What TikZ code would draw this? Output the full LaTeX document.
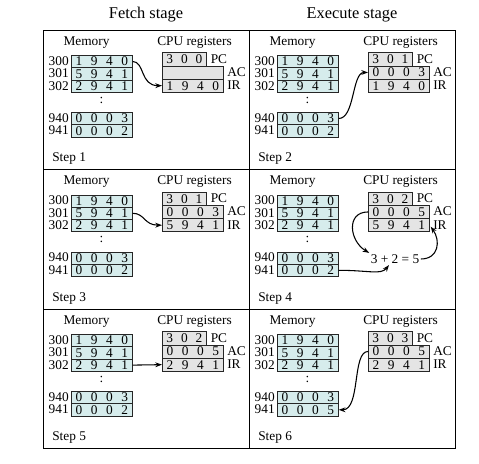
\documentclass[tikz,border=0pt]{standalone}
\usepackage{fontspec}
\setmainfont{Liberation Serif}
\usetikzlibrary{arrows.meta,calc}
\definecolor{memfill}{RGB}{214,236,236}
\definecolor{regfill}{RGB}{228,228,228}

\newcommand\dgt[1]{\makebox[11.4pt]{#1}}
\newcommand\pdgt[1]{\makebox[11pt]{#1}}
\newcommand\fourd[4]{\dgt{#1}\dgt{#2}\dgt{#3}\dgt{#4}}
\newcommand\threed[3]{\pdgt{#1}\pdgt{#2}\pdgt{#3}}

\tikzset{
 x=0.75pt, y=-0.75pt,
 cell/.style={draw=black!85, line width=0.55pt, inner sep=0pt,
   anchor=north west, font=\fontsize{10}{11}\selectfont},
 memcell/.style={cell, fill=memfill, minimum width=45.75pt, minimum height=9.2pt},
 acell/.style={cell, fill=regfill, minimum width=45.75pt, minimum height=9.9pt},
 pccell/.style={cell, fill=regfill, minimum width=33pt, minimum height=9.9pt},
 lbl/.style={inner sep=0pt, font=\fontsize{10}{11}\selectfont},
 ttl/.style={inner sep=0pt, font=\fontsize{12.3}{14}\selectfont},
 flow/.style={line width=0.8pt, -{Stealth[length=5pt,width=3.6pt]}},
 frame/.style={line width=0.75pt},
}

% #1 prefix, #2 x, #3 y, #4 step, #5 PC, #6 AC, #7 IR, #8 cell 941
\newcommand\panel[8]{%
 \begin{scope}[shift={(#2,#3)}]
  \node[lbl] (#1mem) at (43.5,12.5) {Memory};
  \node[lbl] (#1cpu) at (151.5,12.5) {CPU registers};
  \node[memcell] (#1m300) at (28,25) {\fourd 1940};
  \node[memcell] (#1m301) at (28,37.3) {\fourd 5941};
  \node[memcell] (#1m302) at (28,49.6) {\fourd 2941};
  \node[lbl] (#1dots) at (58.5,70) {:};
  \node[memcell] (#1m940) at (28,82) {\fourd 0003};
  \node[memcell] (#1m941) at (28,94.3) {\fourd #8};
  \node[lbl,anchor=east] (#1a300) at (26,31.1) {300};
  \node[lbl,anchor=east] (#1a301) at (26,43.4) {301};
  \node[lbl,anchor=east] (#1a302) at (26,55.7) {302};
  \node[lbl,anchor=east] (#1a940) at (26,88.1) {940};
  \node[lbl,anchor=east] (#1a941) at (26,100.4) {941};
  \node[pccell] (#1pc) at (119,22.3) {\threed #5};
  \node[acell] (#1ac) at (119,35.5) {\fourd #6};
  \node[acell] (#1ir) at (119,48.7) {\fourd #7};
  \node[lbl,anchor=west] (#1lpc) at (167.5,28.9) {PC};
  \node[lbl,anchor=west] (#1lac) at (184,42.1) {AC};
  \node[lbl,anchor=west] (#1lir) at (184,55.3) {IR};
  \node[lbl,anchor=west] (#1step) at (9,129) {Step #4};
 \end{scope}}

\begin{document}
\begin{tikzpicture}
\useasboundingbox (0,0) rectangle (479,464);
\node[ttl] (fetch) at (146,15) {Fetch stage};
\node[ttl] (exec) at (352,15) {Execute stage};

\draw[frame] (43,30) rectangle (455,448);
\draw[frame] (249,30) -- (249,448);
\draw[frame] (43,169.5) -- (455,169.5);
\draw[frame] (43,309) -- (455,309);

\panel{p1}{43}{30}{1}{300}{{}{}{}{}}{1940}{0002}
\panel{p2}{249}{30}{2}{301}{0003}{1940}{0002}
\panel{p3}{43}{169.5}{3}{301}{0003}{5941}{0002}
\panel{p4}{249}{169.5}{4}{302}{0005}{5941}{0002}
\panel{p5}{43}{309}{5}{302}{0005}{2941}{0002}
\panel{p6}{249}{309}{6}{303}{0005}{2941}{0005}

\node[lbl, inner sep=1pt] (p4ex) at (395,259) {3 + 2 = 5};

\draw[flow] (p1m300.east) .. controls +(12,0) and +(-22,0) .. (p1ir.west);
\draw[flow] (p2m940.east) .. controls +(16,0) and +(-16,0) .. (p2ac.west);
\draw[flow] (p3m301.east) .. controls +(12,0) and +(-18,0) .. (p3ir.west);
\draw[flow] (p4ac.west) .. controls +(-22,0) and +(-20,-12) .. (p4ex.north west);
\draw[flow] (p4m941.east) .. controls +(30,0) and +(-8,10) .. ($(p4ex.south)+(-6,0)$);
\draw[flow] (p4ex.east) .. controls +(18,0) and +(10,14) .. ($(p4ir.east)+(1,1.5)$);
\draw[flow] (p5m302.east) -- (p5ir.west);
\draw[flow] (p6ac.west) .. controls +(-16,0) and +(22,0) .. (p6m941.east);
\end{tikzpicture}
\end{document}
